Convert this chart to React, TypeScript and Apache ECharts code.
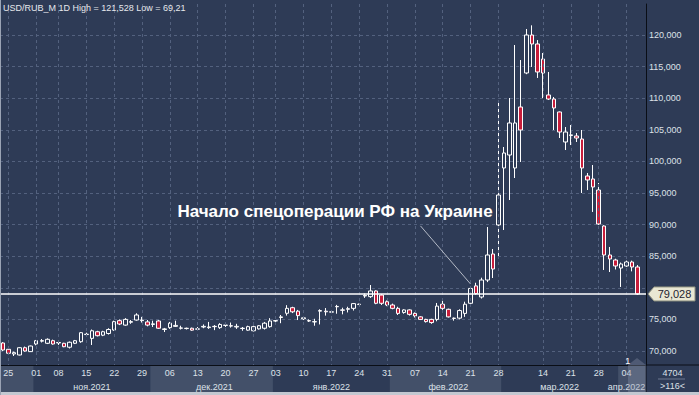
import React, { useEffect, useRef } from 'react';
import * as echarts from 'echarts';

// Trading days (category axis) — one candle each
const dates: string[] = [
  '2021-10-22',
  '2021-10-25', '2021-10-26', '2021-10-27', '2021-10-28', '2021-10-29',
  '2021-11-01', '2021-11-02', '2021-11-03', '2021-11-05',
  '2021-11-08', '2021-11-09', '2021-11-10', '2021-11-11', '2021-11-12',
  '2021-11-15', '2021-11-16', '2021-11-17', '2021-11-18', '2021-11-19',
  '2021-11-22', '2021-11-23', '2021-11-24', '2021-11-25', '2021-11-26',
  '2021-11-29', '2021-11-30', '2021-12-01', '2021-12-02', '2021-12-03',
  '2021-12-06', '2021-12-07', '2021-12-08', '2021-12-09', '2021-12-10',
  '2021-12-13', '2021-12-14', '2021-12-15', '2021-12-16', '2021-12-17',
  '2021-12-20', '2021-12-21', '2021-12-22', '2021-12-23', '2021-12-24',
  '2021-12-27', '2021-12-28', '2021-12-29', '2021-12-30',
  '2022-01-03', '2022-01-04', '2022-01-05', '2022-01-06', '2022-01-07',
  '2022-01-10', '2022-01-11', '2022-01-12', '2022-01-13', '2022-01-14',
  '2022-01-17', '2022-01-18', '2022-01-19', '2022-01-20', '2022-01-21',
  '2022-01-24', '2022-01-25', '2022-01-26', '2022-01-27', '2022-01-28',
  '2022-01-31', '2022-02-01', '2022-02-02', '2022-02-03', '2022-02-04',
  '2022-02-07', '2022-02-08', '2022-02-09', '2022-02-10', '2022-02-11',
  '2022-02-14', '2022-02-15', '2022-02-16', '2022-02-17', '2022-02-18',
  '2022-02-21', '2022-02-22', '2022-02-23', '2022-02-24', '2022-02-25',
  '2022-02-28', '2022-03-01', '2022-03-02', '2022-03-03', '2022-03-04',
  '2022-03-09', '2022-03-10', '2022-03-11',
  '2022-03-14', '2022-03-15', '2022-03-16', '2022-03-17', '2022-03-18',
  '2022-03-21', '2022-03-22', '2022-03-23', '2022-03-24', '2022-03-25',
  '2022-03-28', '2022-03-29', '2022-03-30', '2022-03-31', '2022-04-01',
  '2022-04-04', '2022-04-05', '2022-04-06',
];
const emptyTail: string[] = ['2022-04-07'];

const opens: number[] = [
  71.27, 70.27, 69.53, 69.37, 70.52, 69.9, 71.11, 71.55, 71.22, 71.63,
  71.27, 71.22, 70.6, 71.22, 71.47, 72.6, 72.0, 73.05, 72.5, 72.77,
  73.32, 74.8, 74.1, 74.55, 74.9, 74.8, 74.6, 74.2, 74.75, 73.4,
  73.7, 73.9, 73.6, 73.55, 73.6, 73.45, 73.8, 73.7, 73.9, 73.7,
  74.05, 74.0, 73.8, 73.55, 73.3, 73.2, 73.5, 73.6, 73.85, 74.75,
  75.3, 75.97, 76.85, 76.3, 75.1, 74.8, 74.6, 76.3, 76.3, 76.15,
  77.0, 76.5, 76.6, 76.75, 77.35, 78.7, 78.6, 79.5, 78.85, 77.8,
  77.28, 76.75, 76.1, 76.5, 75.95, 75.4, 75.0, 75.0, 75.0, 77.4,
  76.6, 75.2, 75.2, 75.95, 77.55, 80.3, 78.54, 81.23, 85.35, 89.94,
  98.96, 101.01, 98.96, 108.61, 113.99, 120.0, 118.58, 116.2, 110.51, 109.87,
  107.82, 103.07, 104.1, 104.02, 103.54, 97.69, 97.22, 95.47, 89.78, 85.19,
  84.4, 83.13, 83.45, 84.08, 83.29,
];
const closes: number[] = [
  70.16, 69.64, 69.74, 70.52, 70.0, 70.79, 71.63, 71.65, 71.85, 71.11,
  71.35, 70.68, 71.38, 71.63, 72.9, 72.66, 73.2, 72.42, 73.05, 73.4,
  74.64, 74.27, 75.0, 74.65, 75.7, 74.9, 74.1, 74.3, 73.6, 73.5,
  74.4, 74.05, 73.65, 73.6, 73.3, 73.5, 73.9, 73.8, 73.85, 74.2,
  74.1, 73.95, 73.9, 73.6, 73.85, 73.85, 74.0, 74.4, 74.75, 74.8,
  75.4, 76.75, 76.2, 75.6, 75.25, 74.75, 74.65, 76.4, 76.2, 76.2,
  77.05, 76.45, 76.7, 77.5, 77.4, 78.8, 79.5, 77.55, 77.55, 77.28,
  76.75, 75.95, 76.5, 75.8, 75.55, 75.0, 74.65, 74.5, 77.1, 76.75,
  75.4, 75.15, 76.4, 77.4, 79.9, 79.1, 81.23, 85.19, 82.97, 94.68,
  101.33, 106.08, 106.08, 104.97, 120.0, 118.58, 114.15, 113.99, 109.87, 108.45,
  104.65, 104.65, 104.2, 103.7, 98.96, 97.06, 95.95, 90.1, 85.19, 84.56,
  83.45, 83.77, 84.08, 83.29, 79.028,
];
const lows: number[] = [
  70.0, 69.5, 69.21, 69.3, 69.9, 69.85, 70.9, 71.35, 71.1, 71.0,
  70.95, 70.6, 70.4, 71.1, 71.3, 72.3, 70.95, 72.3, 72.35, 72.6,
  73.2, 74.1, 74.0, 74.3, 74.8, 74.5, 73.9, 73.8, 73.5, 73.0,
  73.5, 73.8, 73.4, 73.4, 73.2, 73.3, 73.6, 73.5, 73.3, 73.5,
  73.8, 73.7, 73.5, 73.2, 73.2, 73.1, 73.4, 73.4, 73.7, 74.6,
  74.4, 75.6, 76.0, 74.9, 74.9, 74.6, 74.0, 74.2, 75.6, 76.0,
  75.9, 75.8, 76.1, 76.4, 77.3, 78.4, 78.4, 77.4, 77.28, 77.1,
  76.6, 75.7, 75.9, 75.6, 75.3, 74.9, 74.5, 74.3, 74.7, 76.5,
  75.3, 74.8, 75.0, 75.4, 77.0, 78.9, 78.3, 80.9, 81.55, 84.87,
  89.15, 93.89, 97.37, 99.91, 113.8, 114.94, 113.2, 110.03, 109.72, 104.97,
  103.7, 101.8, 102.59, 103.07, 95.0, 95.47, 92.0, 89.94, 82.82, 82.5,
  82.9, 80.13, 83.3, 82.6, 78.9,
];
const highs: number[] = [
  71.4, 70.5, 69.9, 70.6, 70.7, 70.85, 71.75, 71.9, 72.0, 71.8,
  71.5, 71.3, 71.5, 71.75, 73.0, 72.9, 73.4, 73.2, 73.2, 73.6,
  74.8, 75.0, 75.2, 74.9, 75.97, 75.4, 74.9, 74.8, 74.9, 73.65,
  74.6, 74.8, 74.0, 73.7, 73.7, 73.8, 74.2, 74.6, 74.1, 74.4,
  74.4, 74.5, 74.3, 73.8, 74.0, 74.0, 74.1, 74.6, 75.2, 74.9,
  75.7, 77.25, 77.0, 76.5, 75.3, 75.0, 75.1, 76.6, 76.8, 76.3,
  77.3, 76.85, 77.0, 77.6, 77.5, 79.1, 80.44, 79.6, 79.0, 78.0,
  77.5, 77.0, 76.6, 76.6, 76.1, 75.5, 75.1, 75.1, 77.6, 78.34,
  76.7, 75.3, 76.6, 77.8, 80.1, 80.8, 81.6, 89.62, 86.14, 109.24,
  102.28, 110.03, 118.42, 116.04, 120.95, 121.528, 119.2, 117.15, 114.15, 110.19,
  107.9, 105.44, 105.76, 104.49, 104.97, 98.16, 99.43, 96.58, 89.9, 86.46,
  84.6, 84.0, 84.3, 84.3, 83.6,
];

// Monday ticks shown on the date row
const weekTickDates: string[] = [
  '2021-10-25', '2021-11-01', '2021-11-08', '2021-11-15', '2021-11-22', '2021-11-29',
  '2021-12-06', '2021-12-13', '2021-12-20', '2021-12-27', '2022-01-03', '2022-01-10',
  '2022-01-17', '2022-01-24', '2022-01-31', '2022-02-07', '2022-02-14', '2022-02-21',
  '2022-02-28', '2022-03-14', '2022-03-21', '2022-03-28', '2022-04-04',
];
// Month row labels
const monthLabelDates: string[] = ['2021-11-16', '2021-12-16', '2022-01-17', '2022-02-15', '2022-03-17', '2022-04-04'];
const monthLabelTexts: string[] = ['ноя.2021', 'дек.2021', 'янв.2022', 'фев.2022', 'мар.2022', 'апр.2022'];
// Shaded month bands (alternate months)
const bandFrom: string[] = ['2021-10-22', '2021-12-01', '2022-02-01', '2022-04-01'];
const bandTo: string[] = ['2021-10-29', '2021-12-30', '2022-02-28', '2022-04-07'];

const titleText = 'USD/RUB_M 1D';
const annotationText = 'Начало спецоперации РФ на Украине';
const annotationFrom: [string, number] = ['2022-02-08', 89.8];
const annotationTo: [string, number] = ['2022-02-21', 80.6];
const barCountText = '>116<';
const volumeText = '4704';

const Y_MIN = 67.785;
const Y_MAX = 124.905;

const BG = '#2e3b56';
const BAND = '#435069';
const GRID = '#53617e';
const RED = '#c81d3b';
const TXT = '#dde1e8';
const FONT = '"Liberation Sans", Arial, sans-serif';

const fmt = (v: number, d = 3) => v.toFixed(d).replace('.', ',');

export default function App() {
  const ref = useRef<HTMLDivElement>(null);
  useEffect(() => {
    document.body.style.margin = '0';
    const chart = echarts.init(ref.current!, null, { renderer: 'svg' });
    const cats = [...dates, ...emptyTail];
    const candles = dates.map((_, i) => [opens[i], closes[i], lows[i], highs[i]]);
    const weekSet = new Set(weekTickDates);
    const monthMap = new Map<string, string>();
    monthLabelDates.forEach((d, i) => monthMap.set(d, monthLabelTexts[i]));
    const hi = Math.max(...highs);
    const lo = Math.min(...lows);
    const last = closes[closes.length - 1];

    chart.setOption({
      animation: false,
      backgroundColor: BG,
      textStyle: { fontFamily: FONT },
      title: {
        text: `${titleText} High = ${fmt(hi)} Low = ${fmt(lo, 2)}`,
        left: 3, top: 3, padding: 0,
        textStyle: { color: '#e6e8ec', fontSize: 9, fontWeight: 'normal', fontFamily: FONT },
      },
      grid: { left: -1, right: 53, top: 4, bottom: 30, containLabel: false },
      xAxis: [
        {
          type: 'category', data: cats, boundaryGap: true, z: 5,
          axisLine: { show: true, lineStyle: { color: '#0a0e16', width: 1 } },
          axisTick: { show: false },
          axisLabel: {
            interval: (_i: number, v: string) => weekSet.has(v),
            formatter: (v: string) => v.slice(8),
            color: TXT, fontSize: 9, margin: 3, fontFamily: FONT,
          },
          splitLine: {
            show: true, alignWithLabel: true,
            interval: (_i: number, v: string) => weekSet.has(v),
            lineStyle: { color: GRID, type: [3, 3], width: 1 },
          },
        },
        {
          type: 'category', data: cats, boundaryGap: true, position: 'bottom', offset: 14, z: 5,
          axisLine: { show: false }, axisTick: { show: false }, splitLine: { show: false },
          axisLabel: {
            interval: (_i: number, v: string) => monthMap.has(v),
            formatter: (v: string) => monthMap.get(v) || '',
            color: TXT, fontSize: 9, margin: 3, fontFamily: FONT,
          },
        },
      ],
      yAxis: {
        type: 'value', position: 'right', min: Y_MIN, max: Y_MAX,
        splitNumber: 10, minInterval: 5, maxInterval: 5,
        axisLine: { show: true, lineStyle: { color: '#0a0e16', width: 1 } },
        axisTick: { show: false },
        axisLabel: {
          showMinLabel: false, showMaxLabel: false,
          // the last-price tag covers the tick label nearest to it
          formatter: (v: number) => (Math.abs(v - last) < 2 ? '' : fmt(v)),
          color: TXT, fontSize: 9, margin: 3, fontFamily: FONT,
        },
        splitLine: { show: true, showMinLine: false, showMaxLine: false, lineStyle: { color: GRID, type: [3, 3], width: 1 } },
      },
      series: [
        {
          type: 'candlestick', xAxisIndex: 0, yAxisIndex: 0, data: candles, barWidth: 4,
          itemStyle: { color: BG, color0: RED, borderColor: '#ffffff', borderColor0: '#ffffff', borderWidth: 1 },
          markLine: {
            silent: true, symbol: ['none', 'none'], label: { show: false },
            data: [
              { yAxis: last, lineStyle: { color: '#ffffff', width: 1.5, type: 'solid' } },
              [
                { coord: annotationFrom, lineStyle: { color: '#b4bac6', width: 1, type: 'solid' } },
                { coord: annotationTo },
              ],
            ],
          },
        },
      ],
    });

    const px = (d: string) => chart.convertToPixel({ xAxisIndex: 0 }, d) as number;
    const py = (v: number) => chart.convertToPixel({ yAxisIndex: 0 }, v) as number;
    const step = px(cats[1]) - px(cats[0]);
    const gx0 = px(cats[0]) - step / 2;
    const gx1 = px(cats[cats.length - 1]) + step / 2;
    const gyB = py(Y_MIN);
    const W = 699, H = 395;
    const bands = bandFrom.map((f, i) => {
      const x0 = Math.max(gx0, px(f) - step / 2);
      const x1 = Math.min(gx1, px(bandTo[i]) + step / 2);
      return { type: 'rect', z: 1, shape: { x: x0, y: gyB + 1, width: x1 - x0, height: H - gyB - 4 }, style: { fill: BAND } };
    });
    const yTag = py(last);
    const lastX = px(dates[dates.length - 1]);
    chart.setOption({
      graphic: [
        ...bands,
        { type: 'rect', z: 20, shape: { x: 0, y: H - 3, width: W, height: 3 }, style: { fill: '#c3c8d1' } },
        { type: 'rect', z: 20, shape: { x: 0, y: 0, width: 1, height: H }, style: { fill: '#9aa3b4' } },
        { type: 'line', z: 6, shape: { x1: gx1, y1: gyB, x2: W, y2: gyB }, style: { stroke: '#0a0e16', lineWidth: 1 } },
        { type: 'line', z: 6, shape: { x1: gx1, y1: gyB, x2: gx1, y2: H - 3 }, style: { stroke: '#0a0e16', lineWidth: 1 } },
        { type: 'text', z: 6, x: (gx1 + W) / 2, y: gyB + 8, style: { text: volumeText, fill: TXT, fontSize: 9, fontFamily: FONT, align: 'center', verticalAlign: 'middle' } },
        { type: 'line', z: 6, shape: { x1: gx1 + 12, y1: gyB + 14, x2: W - 14, y2: gyB + 14 }, style: { stroke: '#6d7890', lineWidth: 1 } },
        { type: 'text', z: 6, x: (gx1 + W) / 2, y: gyB + 21, style: { text: barCountText, fill: TXT, fontSize: 9, fontFamily: FONT, align: 'center', verticalAlign: 'middle' } },
        { type: 'polygon', z: 7, shape: { points: [[gx1 - 18, gyB], [gx1 - 9, gyB - 7], [gx1, gyB], [gx1, H - 3], [gx1 - 18, H - 3]] }, style: { fill: 'rgba(140,150,172,0.35)' } },
        { type: 'text', z: 7, x: lastX - 10, y: gyB - 4, style: { text: '1', fill: '#ffffff', fontSize: 9, fontFamily: FONT, align: 'center', verticalAlign: 'middle' } },
        { type: 'polygon', z: 10, shape: { points: [[gx1 + 2, yTag], [gx1 + 8, yTag - 7], [W - 4, yTag - 7], [W - 4, yTag + 7], [gx1 + 8, yTag + 7]] }, style: { fill: '#e9e7d3', stroke: '#8f917f', lineWidth: 1 } },
        { type: 'text', z: 11, x: (gx1 + 8 + W - 4) / 2, y: yTag, style: { text: fmt(last), fill: '#1e2330', fontSize: 11, fontFamily: FONT, align: 'center', verticalAlign: 'middle' } },
        { type: 'text', z: 12, x: 335, y: 211, style: { text: annotationText, fill: '#ffffff', fontSize: 17, fontWeight: 'bold', fontFamily: FONT, align: 'center', verticalAlign: 'middle' } },
      ],
    });
    return () => chart.dispose();
  }, []);
  return <div ref={ref} style={{ position: 'fixed', left: 0, top: 0, width: 699, height: 395 }} />;
}
